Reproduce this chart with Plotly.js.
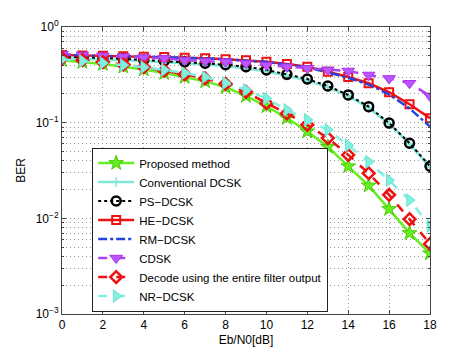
<!DOCTYPE html>
<html><head><meta charset="utf-8">
<script src="https://cdn.plot.ly/plotly-3.0.1.min.js"></script>
<style>html,body{margin:0;padding:0;background:#fff}#chart{width:474px;height:356px}</style>
</head><body><div id="chart"></div>
<script>
const ebn0 = [0,1,2,3,4,5,6,7,8,9,10,11,12,13,14,15,16,17,18];
const proposed = [0.45,0.43,0.41,0.385,0.36,0.33,0.30,0.27,0.235,0.19,0.148,0.112,0.081,0.056,0.035,0.022,0.0125,0.0070,0.0043];
const conventional = [0.47,0.465,0.46,0.45,0.44,0.43,0.42,0.405,0.39,0.37,0.345,0.31,0.275,0.235,0.19,0.143,0.097,0.060,0.034];
const psdcsk = [0.49,0.485,0.475,0.465,0.452,0.442,0.432,0.418,0.404,0.385,0.356,0.32,0.286,0.242,0.195,0.147,0.099,0.061,0.035];
const hedcsk = [0.51,0.505,0.50,0.495,0.49,0.485,0.478,0.47,0.46,0.45,0.434,0.41,0.385,0.34,0.30,0.258,0.208,0.156,0.111];
const rmdcsk = [0.51,0.505,0.50,0.495,0.49,0.485,0.478,0.47,0.46,0.448,0.43,0.405,0.378,0.335,0.295,0.25,0.198,0.141,0.091];
const cdsk = [0.52,0.51,0.50,0.49,0.478,0.47,0.45,0.44,0.434,0.417,0.40,0.385,0.37,0.356,0.347,0.315,0.29,0.258,0.19];
const decode = [0.47,0.45,0.43,0.405,0.38,0.35,0.32,0.29,0.255,0.21,0.16,0.125,0.095,0.069,0.046,0.0296,0.0176,0.0098,0.0054];
const nrdcsk = [0.46,0.44,0.42,0.40,0.38,0.355,0.33,0.30,0.26,0.22,0.179,0.136,0.107,0.084,0.058,0.039,0.025,0.0155,0.0083];
const names = ["Proposed method","Conventional DCSK","PS\u2212DCSK","HE\u2212DCSK","RM\u2212DCSK","CDSK","Decode using the entire filter output","NR\u2212DCSK"];
const yTickVals = [1,0.1,0.01,0.001];
const yTickText = ["10<sup>0</sup>","10<sup>\u22121</sup>","10<sup>\u22122</sup>","10<sup>\u22123</sup>"];
const yMinorVals = [0.002,0.003,0.004,0.005,0.006,0.007,0.008,0.009,0.02,0.03,0.04,0.05,0.06,0.07,0.08,0.09,0.2,0.3,0.4,0.5,0.6,0.7,0.8,0.9];
const xTickVals = [0,2,4,6,8,10,12,14,16,18];

const series = [proposed,conventional,psdcsk,hedcsk,rmdcsk,cdsk,decode,nrdcsk];
const styles = [
  {line:{color:'#66ee22',width:2.5,dash:'solid'},marker:{symbol:'star',size:11,color:'#66ee22',line:{color:'#44cc00',width:1}}},
  {line:{color:'#80e8d8',width:2.5,dash:'solid'},marker:{symbol:'cross-thin-open',size:7,color:'#80e8d8',line:{color:'#80e8d8',width:1.5}}},
  {line:{color:'#000000',width:2,dash:'dot'},marker:{symbol:'circle-open',size:9,color:'#000000',line:{color:'#000000',width:2.5}}},
  {line:{color:'#ee1111',width:2.5,dash:'solid'},marker:{symbol:'square-open',size:8,color:'#ee1111',line:{color:'#ee1111',width:2}}},
  {line:{color:'#2244dd',width:2.5,dash:'dashdot'},marker:{size:1,opacity:0}},
  {line:{color:'#aa44ee',width:2.5,dash:'dash'},marker:{symbol:'triangle-down',size:11,color:'#bb55ff',line:{color:'#aa33ee',width:1}}},
  {line:{color:'#ee1111',width:2.5,dash:'dash'},marker:{symbol:'diamond-open',size:9,color:'#ee1111',line:{color:'#ee1111',width:2.5}}},
  {line:{color:'#80f0e0',width:2.5,dash:'dash'},marker:{symbol:'triangle-right',size:11,color:'#80f0e0',line:{color:'#70e0d0',width:1}}}
];
const traces = series.map((s,i)=>Object.assign({x:ebn0,y:s,name:names[i],type:'scatter',mode:(i===4?'lines':'lines+markers')},styles[i]));

const gridDash = '1px,3px';
const layout = {
  width:474,height:356,
  margin:{l:62,r:44,t:27,b:42},
  paper_bgcolor:'#fff',plot_bgcolor:'#fff',
  font:{family:'Liberation Sans, Arial, sans-serif',size:12,color:'#000'},
  showlegend:true,
  legend:{x:0.082,y:0.58,xanchor:'left',yanchor:'top',bgcolor:'#fff',bordercolor:'#222',borderwidth:1,
    font:{size:11.5},itemwidth:36,tracegroupgap:0},
  xaxis:{range:[0,18],tickvals:xTickVals,ticks:'inside',ticklen:4,tickcolor:'#444',
    showline:true,linecolor:'#444',linewidth:1,mirror:'ticks',
    showgrid:true,gridcolor:'#999',griddash:gridDash,gridwidth:1,zeroline:false,
    title:{text:'Eb/N0[dB]',font:{size:12},standoff:4}},
  yaxis:{type:'log',range:[-3,0],tickvals:yTickVals,ticktext:yTickText,ticks:'inside',ticklen:4,tickcolor:'#444',
    showline:true,linecolor:'#444',linewidth:1,mirror:'ticks',
    showgrid:true,gridcolor:'#999',griddash:gridDash,gridwidth:1,zeroline:false,
    minor:{tickmode:'array',tickvals:yMinorVals,showgrid:true,gridcolor:'#999',griddash:gridDash,gridwidth:1,ticks:'inside',ticklen:2,tickcolor:'#444'},
    title:{text:'BER',font:{size:12},standoff:7}}
};
Plotly.newPlot('chart',traces,layout,{displayModeBar:false,staticPlot:true});
</script></body></html>
